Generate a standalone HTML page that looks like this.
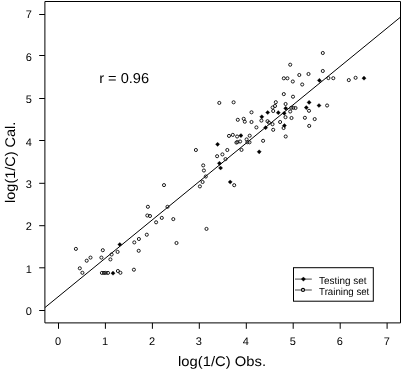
<!DOCTYPE html>
<html><head><meta charset="utf-8"><style>
html,body{margin:0;padding:0;background:#fff;}
svg{display:block;text-rendering:geometricPrecision;}
.t{font-family:"Liberation Sans",Arial,sans-serif;font-size:11px;fill:#000;}
.a{font-family:"Liberation Sans",Arial,sans-serif;font-size:14px;fill:#000;}
.l{font-family:"Liberation Sans",Arial,sans-serif;font-size:10.2px;fill:#000;}
</style></head><body>
<svg width="404" height="369" viewBox="0 0 404 369">
<rect width="404" height="369" fill="#fff"/>
<path d="M44.9 1.5H400.5V322.9H44.9Z" fill="none" stroke="#000" stroke-width="1"/>
<line x1="39.2" y1="14.5" x2="44.9" y2="14.5" stroke="#000" stroke-width="1"/>
<text x="31.8" y="18.3" class="t" text-anchor="end">7</text>
<line x1="39.2" y1="55.5" x2="44.9" y2="55.5" stroke="#000" stroke-width="1"/>
<text x="31.8" y="60.7" class="t" text-anchor="end">6</text>
<line x1="39.2" y1="98.5" x2="44.9" y2="98.5" stroke="#000" stroke-width="1"/>
<text x="31.8" y="103.1" class="t" text-anchor="end">5</text>
<line x1="39.2" y1="140.5" x2="44.9" y2="140.5" stroke="#000" stroke-width="1"/>
<text x="31.8" y="145.5" class="t" text-anchor="end">4</text>
<line x1="39.2" y1="183.3" x2="44.9" y2="183.3" stroke="#000" stroke-width="1"/>
<text x="31.8" y="187.9" class="t" text-anchor="end">3</text>
<line x1="39.2" y1="225.7" x2="44.9" y2="225.7" stroke="#000" stroke-width="1"/>
<text x="31.8" y="230.3" class="t" text-anchor="end">2</text>
<line x1="39.2" y1="267.8" x2="44.9" y2="267.8" stroke="#000" stroke-width="1"/>
<text x="31.8" y="272.8" class="t" text-anchor="end">1</text>
<line x1="39.2" y1="310.5" x2="44.9" y2="310.5" stroke="#000" stroke-width="1"/>
<text x="31.8" y="315.2" class="t" text-anchor="end">0</text>
<line x1="58.5" y1="322.9" x2="58.5" y2="328.8" stroke="#000" stroke-width="1"/>
<text x="58.1" y="344.6" class="t" text-anchor="middle">0</text>
<line x1="105.4" y1="322.9" x2="105.4" y2="328.8" stroke="#000" stroke-width="1"/>
<text x="105.0" y="344.6" class="t" text-anchor="middle">1</text>
<line x1="152.4" y1="322.9" x2="152.4" y2="328.8" stroke="#000" stroke-width="1"/>
<text x="152.0" y="344.6" class="t" text-anchor="middle">2</text>
<line x1="199.3" y1="322.9" x2="199.3" y2="328.8" stroke="#000" stroke-width="1"/>
<text x="198.9" y="344.6" class="t" text-anchor="middle">3</text>
<line x1="246.3" y1="322.9" x2="246.3" y2="328.8" stroke="#000" stroke-width="1"/>
<text x="245.9" y="344.6" class="t" text-anchor="middle">4</text>
<line x1="293.2" y1="322.9" x2="293.2" y2="328.8" stroke="#000" stroke-width="1"/>
<text x="292.8" y="344.6" class="t" text-anchor="middle">5</text>
<line x1="340.2" y1="322.9" x2="340.2" y2="328.8" stroke="#000" stroke-width="1"/>
<text x="339.8" y="344.6" class="t" text-anchor="middle">6</text>
<line x1="387.1" y1="322.9" x2="387.1" y2="328.8" stroke="#000" stroke-width="1"/>
<text x="386.7" y="344.6" class="t" text-anchor="middle">7</text>
<line x1="44.9" y1="307.6" x2="400.5" y2="17.1" stroke="#000" stroke-width="1"/>
<circle cx="75.9" cy="248.9" r="1.55" fill="none" stroke="#111" stroke-width="0.95"/>
<circle cx="102.8" cy="250.2" r="1.55" fill="none" stroke="#111" stroke-width="0.95"/>
<circle cx="86.7" cy="260.7" r="1.55" fill="none" stroke="#111" stroke-width="0.95"/>
<circle cx="90.5" cy="257.6" r="1.55" fill="none" stroke="#111" stroke-width="0.95"/>
<circle cx="101.4" cy="257.6" r="1.55" fill="none" stroke="#111" stroke-width="0.95"/>
<circle cx="79.8" cy="268.3" r="1.55" fill="none" stroke="#111" stroke-width="0.95"/>
<circle cx="82.4" cy="272.8" r="1.55" fill="none" stroke="#111" stroke-width="0.95"/>
<circle cx="101.9" cy="272.9" r="1.55" fill="none" stroke="#111" stroke-width="0.95"/>
<circle cx="104.0" cy="272.9" r="1.55" fill="none" stroke="#111" stroke-width="0.95"/>
<circle cx="105.7" cy="272.9" r="1.55" fill="none" stroke="#111" stroke-width="0.95"/>
<circle cx="108.0" cy="272.9" r="1.55" fill="none" stroke="#111" stroke-width="0.95"/>
<circle cx="117.9" cy="271.0" r="1.55" fill="none" stroke="#111" stroke-width="0.95"/>
<circle cx="120.4" cy="272.8" r="1.55" fill="none" stroke="#111" stroke-width="0.95"/>
<circle cx="110.4" cy="259.4" r="1.55" fill="none" stroke="#111" stroke-width="0.95"/>
<circle cx="111.6" cy="254.5" r="1.55" fill="none" stroke="#111" stroke-width="0.95"/>
<circle cx="117.6" cy="251.9" r="1.55" fill="none" stroke="#111" stroke-width="0.95"/>
<circle cx="133.9" cy="269.7" r="1.55" fill="none" stroke="#111" stroke-width="0.95"/>
<circle cx="134.3" cy="242.4" r="1.55" fill="none" stroke="#111" stroke-width="0.95"/>
<circle cx="138.9" cy="239.0" r="1.55" fill="none" stroke="#111" stroke-width="0.95"/>
<circle cx="138.7" cy="250.8" r="1.55" fill="none" stroke="#111" stroke-width="0.95"/>
<circle cx="146.8" cy="234.7" r="1.55" fill="none" stroke="#111" stroke-width="0.95"/>
<circle cx="147.9" cy="206.8" r="1.55" fill="none" stroke="#111" stroke-width="0.95"/>
<circle cx="147.3" cy="215.5" r="1.55" fill="none" stroke="#111" stroke-width="0.95"/>
<circle cx="150.0" cy="216.0" r="1.55" fill="none" stroke="#111" stroke-width="0.95"/>
<circle cx="156.1" cy="222.3" r="1.55" fill="none" stroke="#111" stroke-width="0.95"/>
<circle cx="161.8" cy="217.9" r="1.55" fill="none" stroke="#111" stroke-width="0.95"/>
<circle cx="167.5" cy="206.8" r="1.55" fill="none" stroke="#111" stroke-width="0.95"/>
<circle cx="173.3" cy="219.1" r="1.55" fill="none" stroke="#111" stroke-width="0.95"/>
<circle cx="176.5" cy="243.0" r="1.55" fill="none" stroke="#111" stroke-width="0.95"/>
<circle cx="164.0" cy="185.1" r="1.55" fill="none" stroke="#111" stroke-width="0.95"/>
<circle cx="206.5" cy="228.9" r="1.55" fill="none" stroke="#111" stroke-width="0.95"/>
<circle cx="195.9" cy="150.0" r="1.55" fill="none" stroke="#111" stroke-width="0.95"/>
<circle cx="203.2" cy="165.4" r="1.55" fill="none" stroke="#111" stroke-width="0.95"/>
<circle cx="203.9" cy="170.5" r="1.55" fill="none" stroke="#111" stroke-width="0.95"/>
<circle cx="205.8" cy="176.5" r="1.55" fill="none" stroke="#111" stroke-width="0.95"/>
<circle cx="202.6" cy="182.0" r="1.55" fill="none" stroke="#111" stroke-width="0.95"/>
<circle cx="199.9" cy="186.4" r="1.55" fill="none" stroke="#111" stroke-width="0.95"/>
<circle cx="227.3" cy="150.0" r="1.55" fill="none" stroke="#111" stroke-width="0.95"/>
<circle cx="222.4" cy="154.4" r="1.55" fill="none" stroke="#111" stroke-width="0.95"/>
<circle cx="217.1" cy="156.2" r="1.55" fill="none" stroke="#111" stroke-width="0.95"/>
<circle cx="225.5" cy="159.1" r="1.55" fill="none" stroke="#111" stroke-width="0.95"/>
<circle cx="234.2" cy="185.2" r="1.55" fill="none" stroke="#111" stroke-width="0.95"/>
<circle cx="219.3" cy="102.9" r="1.55" fill="none" stroke="#111" stroke-width="0.95"/>
<circle cx="233.6" cy="102.3" r="1.55" fill="none" stroke="#111" stroke-width="0.95"/>
<circle cx="237.8" cy="119.8" r="1.55" fill="none" stroke="#111" stroke-width="0.95"/>
<circle cx="243.7" cy="118.8" r="1.55" fill="none" stroke="#111" stroke-width="0.95"/>
<circle cx="244.8" cy="121.7" r="1.55" fill="none" stroke="#111" stroke-width="0.95"/>
<circle cx="251.5" cy="122.0" r="1.55" fill="none" stroke="#111" stroke-width="0.95"/>
<circle cx="251.5" cy="112.3" r="1.55" fill="none" stroke="#111" stroke-width="0.95"/>
<circle cx="256.4" cy="127.4" r="1.55" fill="none" stroke="#111" stroke-width="0.95"/>
<circle cx="229.0" cy="135.9" r="1.55" fill="none" stroke="#111" stroke-width="0.95"/>
<circle cx="232.8" cy="134.9" r="1.55" fill="none" stroke="#111" stroke-width="0.95"/>
<circle cx="237.1" cy="136.5" r="1.55" fill="none" stroke="#111" stroke-width="0.95"/>
<circle cx="236.4" cy="142.6" r="1.55" fill="none" stroke="#111" stroke-width="0.95"/>
<circle cx="237.4" cy="142.0" r="1.55" fill="none" stroke="#111" stroke-width="0.95"/>
<circle cx="240.1" cy="141.5" r="1.55" fill="none" stroke="#111" stroke-width="0.95"/>
<circle cx="241.5" cy="149.9" r="1.55" fill="none" stroke="#111" stroke-width="0.95"/>
<circle cx="246.6" cy="139.4" r="1.55" fill="none" stroke="#111" stroke-width="0.95"/>
<circle cx="247.4" cy="142.2" r="1.55" fill="none" stroke="#111" stroke-width="0.95"/>
<circle cx="249.5" cy="142.3" r="1.55" fill="none" stroke="#111" stroke-width="0.95"/>
<circle cx="249.7" cy="135.7" r="1.55" fill="none" stroke="#111" stroke-width="0.95"/>
<circle cx="263.1" cy="140.8" r="1.55" fill="none" stroke="#111" stroke-width="0.95"/>
<circle cx="261.4" cy="120.6" r="1.55" fill="none" stroke="#111" stroke-width="0.95"/>
<circle cx="267.5" cy="121.2" r="1.55" fill="none" stroke="#111" stroke-width="0.95"/>
<circle cx="269.0" cy="122.7" r="1.55" fill="none" stroke="#111" stroke-width="0.95"/>
<circle cx="272.5" cy="124.2" r="1.55" fill="none" stroke="#111" stroke-width="0.95"/>
<circle cx="273.2" cy="129.8" r="1.55" fill="none" stroke="#111" stroke-width="0.95"/>
<circle cx="272.6" cy="107.5" r="1.55" fill="none" stroke="#111" stroke-width="0.95"/>
<circle cx="273.2" cy="111.0" r="1.55" fill="none" stroke="#111" stroke-width="0.95"/>
<circle cx="275.0" cy="106.0" r="1.55" fill="none" stroke="#111" stroke-width="0.95"/>
<circle cx="275.8" cy="102.2" r="1.55" fill="none" stroke="#111" stroke-width="0.95"/>
<circle cx="280.1" cy="122.0" r="1.55" fill="none" stroke="#111" stroke-width="0.95"/>
<circle cx="283.6" cy="128.0" r="1.55" fill="none" stroke="#111" stroke-width="0.95"/>
<circle cx="285.7" cy="136.5" r="1.55" fill="none" stroke="#111" stroke-width="0.95"/>
<circle cx="283.8" cy="94.1" r="1.55" fill="none" stroke="#111" stroke-width="0.95"/>
<circle cx="285.6" cy="104.0" r="1.55" fill="none" stroke="#111" stroke-width="0.95"/>
<circle cx="291.2" cy="107.8" r="1.55" fill="none" stroke="#111" stroke-width="0.95"/>
<circle cx="293.3" cy="107.8" r="1.55" fill="none" stroke="#111" stroke-width="0.95"/>
<circle cx="295.5" cy="108.0" r="1.55" fill="none" stroke="#111" stroke-width="0.95"/>
<circle cx="290.2" cy="111.5" r="1.55" fill="none" stroke="#111" stroke-width="0.95"/>
<circle cx="285.5" cy="117.2" r="1.55" fill="none" stroke="#111" stroke-width="0.95"/>
<circle cx="293.0" cy="96.7" r="1.55" fill="none" stroke="#111" stroke-width="0.95"/>
<circle cx="304.9" cy="117.8" r="1.55" fill="none" stroke="#111" stroke-width="0.95"/>
<circle cx="309.0" cy="110.8" r="1.55" fill="none" stroke="#111" stroke-width="0.95"/>
<circle cx="291.5" cy="118.0" r="1.55" fill="none" stroke="#111" stroke-width="0.95"/>
<circle cx="327.1" cy="105.5" r="1.55" fill="none" stroke="#111" stroke-width="0.95"/>
<circle cx="314.7" cy="119.1" r="1.55" fill="none" stroke="#111" stroke-width="0.95"/>
<circle cx="309.2" cy="125.9" r="1.55" fill="none" stroke="#111" stroke-width="0.95"/>
<circle cx="290.2" cy="64.7" r="1.55" fill="none" stroke="#111" stroke-width="0.95"/>
<circle cx="283.8" cy="78.3" r="1.55" fill="none" stroke="#111" stroke-width="0.95"/>
<circle cx="287.4" cy="78.3" r="1.55" fill="none" stroke="#111" stroke-width="0.95"/>
<circle cx="292.8" cy="81.5" r="1.55" fill="none" stroke="#111" stroke-width="0.95"/>
<circle cx="299.3" cy="75.0" r="1.55" fill="none" stroke="#111" stroke-width="0.95"/>
<circle cx="308.5" cy="74.0" r="1.55" fill="none" stroke="#111" stroke-width="0.95"/>
<circle cx="302.2" cy="84.5" r="1.55" fill="none" stroke="#111" stroke-width="0.95"/>
<circle cx="322.8" cy="53.0" r="1.55" fill="none" stroke="#111" stroke-width="0.95"/>
<circle cx="322.8" cy="71.0" r="1.55" fill="none" stroke="#111" stroke-width="0.95"/>
<circle cx="328.4" cy="78.1" r="1.55" fill="none" stroke="#111" stroke-width="0.95"/>
<circle cx="333.3" cy="78.2" r="1.55" fill="none" stroke="#111" stroke-width="0.95"/>
<circle cx="348.8" cy="80.1" r="1.55" fill="none" stroke="#111" stroke-width="0.95"/>
<circle cx="355.6" cy="77.8" r="1.55" fill="none" stroke="#111" stroke-width="0.95"/>
<path d="M113.0 271.10L115.10 273.2L113.0 275.30L110.90 273.2Z" fill="#000" stroke="#000" stroke-width="0.3" stroke-linejoin="round"/>
<path d="M119.8 242.40L121.90 244.5L119.8 246.60L117.70 244.5Z" fill="#000" stroke="#000" stroke-width="0.3" stroke-linejoin="round"/>
<path d="M217.6 142.20L219.70 144.3L217.6 146.40L215.50 144.3Z" fill="#000" stroke="#000" stroke-width="0.3" stroke-linejoin="round"/>
<path d="M219.4 161.20L221.50 163.3L219.4 165.40L217.30 163.3Z" fill="#000" stroke="#000" stroke-width="0.3" stroke-linejoin="round"/>
<path d="M220.6 165.90L222.70 168.0L220.6 170.10L218.50 168.0Z" fill="#000" stroke="#000" stroke-width="0.3" stroke-linejoin="round"/>
<path d="M230.2 179.90L232.30 182.0L230.2 184.10L228.10 182.0Z" fill="#000" stroke="#000" stroke-width="0.3" stroke-linejoin="round"/>
<path d="M240.9 133.50L243.00 135.6L240.9 137.70L238.80 135.6Z" fill="#000" stroke="#000" stroke-width="0.3" stroke-linejoin="round"/>
<path d="M259.2 149.70L261.30 151.8L259.2 153.90L257.10 151.8Z" fill="#000" stroke="#000" stroke-width="0.3" stroke-linejoin="round"/>
<path d="M261.8 114.70L263.90 116.8L261.8 118.90L259.70 116.8Z" fill="#000" stroke="#000" stroke-width="0.3" stroke-linejoin="round"/>
<path d="M267.7 110.40L269.80 112.5L267.7 114.60L265.60 112.5Z" fill="#000" stroke="#000" stroke-width="0.3" stroke-linejoin="round"/>
<path d="M265.6 125.60L267.70 127.7L265.6 129.80L263.50 127.7Z" fill="#000" stroke="#000" stroke-width="0.3" stroke-linejoin="round"/>
<path d="M278.3 110.60L280.40 112.7L278.3 114.80L276.20 112.7Z" fill="#000" stroke="#000" stroke-width="0.3" stroke-linejoin="round"/>
<path d="M284.2 111.20L286.30 113.3L284.2 115.40L282.10 113.3Z" fill="#000" stroke="#000" stroke-width="0.3" stroke-linejoin="round"/>
<path d="M284.4 123.50L286.50 125.6L284.4 127.70L282.30 125.6Z" fill="#000" stroke="#000" stroke-width="0.3" stroke-linejoin="round"/>
<path d="M285.7 106.20L287.80 108.3L285.7 110.40L283.60 108.3Z" fill="#000" stroke="#000" stroke-width="0.3" stroke-linejoin="round"/>
<path d="M309.1 100.30L311.20 102.4L309.1 104.50L307.00 102.4Z" fill="#000" stroke="#000" stroke-width="0.3" stroke-linejoin="round"/>
<path d="M306.3 105.50L308.40 107.6L306.3 109.70L304.20 107.6Z" fill="#000" stroke="#000" stroke-width="0.3" stroke-linejoin="round"/>
<path d="M319.0 103.40L321.10 105.5L319.0 107.60L316.90 105.5Z" fill="#000" stroke="#000" stroke-width="0.3" stroke-linejoin="round"/>
<path d="M319.4 78.30L321.50 80.4L319.4 82.50L317.30 80.4Z" fill="#000" stroke="#000" stroke-width="0.3" stroke-linejoin="round"/>
<path d="M364.0 76.10L366.10 78.2L364.0 80.30L361.90 78.2Z" fill="#000" stroke="#000" stroke-width="0.3" stroke-linejoin="round"/>
<text x="99.2" y="82.8" class="a" style="font-size:14.3px" textLength="49.9" lengthAdjust="spacingAndGlyphs">r = 0.96</text>
<text x="178.0" y="365.8" class="a" style="font-size:13.8px" textLength="88.0" lengthAdjust="spacingAndGlyphs">log(1/C) Obs.</text>
<text transform="translate(15.35,202.9) rotate(-90)" class="a" style="font-size:14px" textLength="81.2" lengthAdjust="spacingAndGlyphs">log(1/C) Cal.</text>
<rect x="293.5" y="267.7" width="79.8" height="33.5" fill="#fff" stroke="#000" stroke-width="1"/>
<line x1="295" y1="279.1" x2="311.8" y2="279.1" stroke="#666" stroke-width="1.2"/>
<line x1="295" y1="290.0" x2="311.8" y2="290.0" stroke="#666" stroke-width="1.2"/>
<path d="M303.4 276.9L305.6 279.1L303.4 281.3L301.2 279.1Z" fill="#000" stroke="#000" stroke-width="0.3" stroke-linejoin="round"/>
<circle cx="303.0" cy="289.9" r="1.5" fill="#fff" stroke="#000" stroke-width="1.15"/>
<text x="319.1" y="283.7" class="l" textLength="47.4" lengthAdjust="spacingAndGlyphs">Testing set</text>
<text x="319.1" y="294.6" class="l" textLength="50.2" lengthAdjust="spacingAndGlyphs">Training set</text>
</svg>
</body></html>
